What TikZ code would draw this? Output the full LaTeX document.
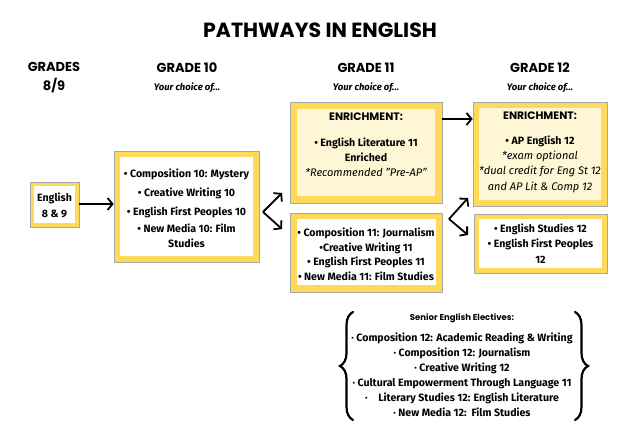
\documentclass[tikz,border=0pt]{standalone}
\usepackage{fontspec}
\setmainfont{Fira Sans}
\newfontfamily\headfont{Poppins}
\usetikzlibrary{arrows.meta,calc,decorations.pathreplacing}
\definecolor{ygold}{HTML}{FFD95A}
\definecolor{cream}{HTML}{FFF6D6}
\definecolor{edgegray}{HTML}{A8A8A8}
\begin{document}
\begin{tikzpicture}[x=1pt,y=-1pt,
  bw/.store in=\bw, bw=6pt,
  inner/.store in=\innercol, inner=white,
  ybox/.style={draw=edgegray, line width=0.6pt, fill=ygold, inner sep=0pt,
    path picture={\fill[fill=\innercol] ($(path picture bounding box.north west)+(\bw,-\bw)$) rectangle ($(path picture bounding box.south east)+(-\bw,\bw)$);}},
  txt/.style={align=center, inner sep=0pt, font=\bfseries\fontsize{10.6}{15}\selectfont},
  head/.style={inner sep=0pt, font=\headfont\bfseries\fontsize{13}{19}\selectfont, align=center},
  sub/.style={inner sep=0pt, font=\bfseries\itshape\fontsize{9.5}{10}\selectfont},
  ital/.style={},
  arr/.style={line width=1.8pt, -{Straight Barb[length=5pt,width=12pt]}},
  bracestyle/.style={line width=2.2pt, line cap=round, decorate, decoration={brace, amplitude=13pt}}
]
\newcommand\itl[1]{{\mdseries\itshape\fontsize{11}{15}\selectfont #1}}
\useasboundingbox[fill=white] (0,0) rectangle (640,427);

% titles
\node[inner sep=0pt, font=\headfont\bfseries\fontsize{20.5}{22}\selectfont] (title) at (320,30) {PATHWAYS IN ENGLISH};
\node[head] (h89) at (54,77.5) {GRADES\\8/9};
\node[head] (h10) at (187,68) {GRADE 10};
\node[head] (h11) at (366,68) {GRADE 11};
\node[head] (h12) at (540,68) {GRADE 12};
\node[sub] (s10) at (187,88) {Your choice of...};
\node[sub] (s11) at (366,88) {Your choice of...};
\node[sub] (s12) at (540,88) {Your choice of...};

% boxes
\node[bw=4pt, ybox, minimum width=49pt, minimum height=45pt] (e89) at (54.5,204.5) {};
\node[bw=6pt, ybox, minimum width=145pt, minimum height=111pt] (g10) at (186.5,206.5) {};
\node[bw=7pt, inner=cream, ybox, minimum width=152pt, minimum height=101pt] (en11) at (366,152.5) {};
\node[bw=6.5pt, ybox, minimum width=152pt, minimum height=79pt] (g11) at (366,252.5) {};
\node[bw=6pt, inner=cream, ybox, minimum width=134pt, minimum height=104pt] (en12) at (540,154) {};
\node[bw=5pt, ybox, minimum width=133pt, minimum height=59pt] (g12) at (540.5,243.5) {};

% box texts
\node[txt, font=\bfseries\fontsize{10.6}{16}\selectfont] (e89t) at (54.5,205) {English\\8 \& 9};
\node[txt] (g10t) at (186.5,208) {• Composition 10: Mystery\\[4pt]• Creative Writing 10\\[4pt]• English First Peoples 10\\[2pt]• New Media 10: Film\\Studies};
\node[txt] (en11t) at (366,145) {{\headfont\fontsize{10.8}{12}\selectfont ENRICHMENT:}\\[11pt]• English Literature 11\\Enriched\\\itl{*Recommended "Pre-AP"}};
\node[txt, font=\bfseries\fontsize{10.6}{14.5}\selectfont] (g11t) at (366,254.5) {• Composition 11: Journalism\\•Creative Writing 11\\• English First Peoples 11\\• New Media 11: Film Studies};
\node[txt] (en12t) at (540,152.5) {{\headfont\fontsize{10.8}{12}\selectfont ENRICHMENT:}\\[10pt]• AP English 12\\\itl{*exam optional}\\\itl{*dual credit for Eng St 12}\\[1pt]\itl{and AP Lit \& Comp 12}};
\node[txt, font=\bfseries\fontsize{10.6}{15.5}\selectfont] (g12t) at (540.5,243.5) {• English Studies 12\\• English First Peoples\\12};

% electives
\node[txt] (el) at (462,365) {{\headfont\fontsize{8.5}{10}\selectfont Senior English Electives:}\\[6pt]
· Composition 12: Academic Reading \& Writing\\
· Composition 12: Journalism\\
· Creative Writing 12\\
· Cultural Empowerment Through Language 11\\
·\quad Literary Studies 12: English Literature\\
· New Media 12:\ \ Film Studies};
\draw[bracestyle] (353,420) -- (353,312);
\draw[bracestyle] (575,312) -- (575,420);

% connectors
\coordinate (f1) at (263,212);
\coordinate (f1a) at (282,193);
\coordinate (f1b) at (282,229);
\coordinate (f2) at (449,219);
\coordinate (f2a) at (468,198);
\coordinate (f2b) at (468,235);
\draw[arr] (e89.east |- 0,204) -- (g10.west |- 0,204);
\draw[arr] (en11.east |- 0,119) -- (en12.west |- 0,119);
\draw[arr] (f1) -- (f1a);
\draw[arr] (f1) -- (f1b);
\draw[arr] (f2) -- (f2a);
\draw[arr] (f2) -- (f2b);
\end{tikzpicture}
\end{document}
